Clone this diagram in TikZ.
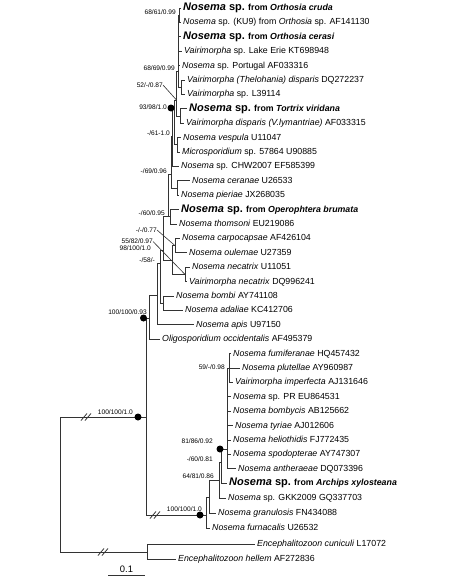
\documentclass[tikz,border=0pt]{standalone}
\usepackage{fontspec}
\setmainfont{Liberation Sans}
\newcommand{\NosBold}{{\fontsize{11}{12}\selectfont\bfseries\itshape Nosema\/ \upshape sp.}}
\tikzset{
  branch/.style={draw=black!80, line width=0.8pt},
  leader/.style={draw=black!80, line width=0.6pt},
  leaf/.style={anchor=west, inner xsep=2.5pt, inner ysep=0pt, text height=6.5pt, text depth=1.7pt, font=\fontsize{8.8}{10}\selectfont},
  supp/.style={anchor=east, inner sep=0pt, font=\fontsize{6.6}{7}\selectfont},
  dotmark/.style={fill=black},
  brk/.pic={\draw[branch] (-5,3.5)--(1,-3.5) (-1,3.5)--(5,-3.5);}
}
\begin{document}
\begin{tikzpicture}[x=1pt,y=-1pt]
\useasboundingbox (0,0) rectangle (474,578);
% ---------- leaves ----------
\node[leaf] (t1) at (180.5,8) {\NosBold{} \textbf{from \textit{Orthosia cruda}}};
\node[leaf] (t2) at (180.5,22.4) {\textit{Nosema} sp. (KU9) from \textit{Orthosia} sp. AF141130};
\node[leaf] (t3) at (180.5,36.8) {\NosBold{} \textbf{from \textit{Orthosia cerasi}}};
\node[leaf] (t4) at (181.5,51.2) {\textit{Vairimorpha} sp. Lake Erie KT698948};
\node[leaf] (t5) at (179.5,65.6) {\textit{Nosema} sp. Portugal AF033316};
\node[leaf] (t6) at (184.5,80) {\textit{Vairimorpha (Thelohania) disparis} DQ272237};
\node[leaf] (t7) at (184.5,94.4) {\textit{Vairimorpha} sp. L39114};
\node[leaf] (t8) at (186.5,108.8) {\NosBold{} \textbf{from \textit{Tortrix viridana}}};
\node[leaf] (t9) at (183.5,123.2) {\textit{Vairimorpha disparis (V.lymantriae)} AF033315};
\node[leaf] (t10) at (180.5,137.6) {\textit{Nosema vespula} U11047};
\node[leaf] (t11) at (179.5,152) {\textit{Microsporidium} sp. 57864 U90885};
\node[leaf] (t12) at (178.5,166.4) {\textit{Nosema} sp. CHW2007 EF585399};
\node[leaf] (t13) at (189.5,180.8) {\textit{Nosema ceranae} U26533};
\node[leaf] (t14) at (178.5,195.2) {\textit{Nosema pieriae} JX268035};
\node[leaf] (t15) at (178.5,209.6) {\NosBold{} \textbf{from \textit{Operophtera brumata}}};
\node[leaf] (t16) at (176.5,224) {\textit{Nosema thomsoni} EU219086};
\node[leaf] (t17) at (179.5,238.4) {\textit{Nosema carpocapsae} AF426104};
\node[leaf] (t18) at (186.5,252.8) {\textit{Nosema oulemae} U27359};
\node[leaf] (t19) at (189.5,267.2) {\textit{Nosema necatrix} U11051};
\node[leaf] (t20) at (186.5,281.6) {\textit{Vairimorpha necatrix} DQ996241};
\node[leaf] (t21) at (173.5,296) {\textit{Nosema bombi} AY741108};
\node[leaf] (t22) at (182.5,310.4) {\textit{Nosema adaliae} KC412706};
\node[leaf] (t23) at (193.5,324.8) {\textit{Nosema apis} U97150};
\node[leaf] (t24) at (159.5,339.2) {\textit{Oligosporidium occidentalis} AF495379};
\node[leaf] (t25) at (230.5,353.6) {\textit{Nosema fumiferanae} HQ457432};
\node[leaf] (t26) at (239.5,368) {\textit{Nosema plutellae} AY960987};
\node[leaf] (t27) at (232.5,382.4) {\textit{Vairimorpha imperfecta} AJ131646};
\node[leaf] (t28) at (230.5,396.8) {\textit{Nosema} sp. PR EU864531};
\node[leaf] (t29) at (230.5,411.2) {\textit{Nosema bombycis} AB125662};
\node[leaf] (t30) at (232.5,425.6) {\textit{Nosema tyriae} AJ012606};
\node[leaf] (t31) at (230.5,440) {\textit{Nosema heliothidis} FJ772435};
\node[leaf] (t32) at (230.5,454.4) {\textit{Nosema spodopterae} AY747307};
\node[leaf] (t33) at (235.5,468.8) {\textit{Nosema antheraeae} DQ073396};
\node[leaf] (t34) at (226.5,483.2) {\NosBold{} \textbf{from \textit{Archips xylosteana}}};
\node[leaf] (t35) at (225.5,498) {\textit{Nosema} sp. GKK2009 GQ337703};
\node[leaf] (t36) at (215.5,513) {\textit{Nosema granulosis} FN434088};
\node[leaf] (t37) at (209.5,528) {\textit{Nosema furnacalis} U26532};
\node[leaf] (t38) at (254.5,544) {\textit{Encephalitozoon cuniculi} L17072};
\node[leaf] (t39) at (175.5,559) {\textit{Encephalitozoon hellem} AF272836};
% ---------- internal nodes ----------
\coordinate (nA) at (179.5,15.2);
\coordinate (nC) at (181.5,87.2);
\coordinate (nD) at (178,71);
\coordinate (nE) at (180,116);
\coordinate (nG) at (176.5,100);
\coordinate (nK) at (177,144.8);
\coordinate (nF) at (174,108);
\coordinate (nH) at (172.5,136);
\coordinate (a10) at (177,188);
\coordinate (nI) at (171,174);
\coordinate (a11) at (170.5,216.8);
\coordinate (nJ) at (168,216);
\coordinate (a13) at (175,245.6);
\coordinate (a14) at (185,274.4);
\coordinate (a15) at (172,260);
\coordinate (a17) at (163,250);
\coordinate (b1) at (163,303.2);
\coordinate (a16) at (160,263);
\coordinate (U1) at (157,295);
\coordinate (U) at (149,318);
\coordinate (C1) at (229,368);
\coordinate (N1) at (227,449);
\coordinate (N2) at (221,462);
\coordinate (N3) at (219,480);
\coordinate (L1) at (209,497);
\coordinate (L0) at (206,515);
\coordinate (X) at (146,417);
\coordinate (E) at (147,552);
\coordinate (R) at (60,484.5);
% ---------- branches ----------
\foreach \p/\c in {nA/t1,nA/t2,nD/t3,nD/t4,nD/t5,nC/t6,nC/t7,nE/t8,nE/t9,nK/t10,nK/t11,nH/t12,a10/t13,a10/t14,a11/t15,a11/t16,a13/t17,a13/t18,a14/t19,a14/t20,b1/t21,b1/t22,U1/t23,U/t24,C1/t25,C1/t26,C1/t27,N1/t28,N1/t29,N1/t30,N1/t31,N1/t32,N1/t33,N2/t34,N3/t35,L1/t36,L0/t37,E/t38,E/t39}
  \draw[branch] (\p) |- (\c.west);
\foreach \p/\c in {nD/nA,nD/nC,nG/nD,nG/nE,nF/nG,nF/nK,nH/nF,nI/nH,nI/a10,nJ/nI,nJ/a11,a15/a13,a15/a14,a17/nJ,a17/a15,a16/a17,a16/b1,U1/a16,U/U1,X/U,X/L0,N1/C1,N2/N1,N3/N2,L1/N3,L0/L1,R/X,R/E}
  \draw[branch] (\p) |- (\c);
% ---------- break marks ----------
\pic at (86,417) {brk};
\pic at (155,515) {brk};
\pic at (103,552) {brk};
% ---------- support dots ----------
\fill[dotmark] (171,108) circle[radius=3.5pt];
\fill[dotmark] (143.5,318) circle[radius=3.5pt];
\fill[dotmark] (138,417) circle[radius=3.5pt];
\fill[dotmark] (200,515) circle[radius=3.5pt];
\fill[dotmark] (220,449) circle[radius=3.5pt];
% ---------- support labels ----------
\node[supp] (s1) at (176,12) {68/61/0.99};
\node[supp] (s2) at (175,68) {68/69/0.99};
\node[supp] (s3) at (163,85) {52/-/0.87};
\node[supp] (s4) at (167,107) {93/98/1.0};
\node[supp] (s5) at (170,133) {-/61-1.0};
\node[supp] (s6) at (167,171) {-/69/0.96};
\node[supp] (s7) at (165,213) {-/60/0.95};
\node[supp] (s8) at (157,230) {-/-/0.77};
\node[supp] (s9) at (153,241.5) {55/82/0.97};
\node[supp] (s10) at (151,248) {98/100/1.0};
\node[supp] (s11) at (155,260) {-/58/-};
\node[supp] (s12) at (147,312) {100/100/0.93};
\node[supp] (s13) at (225,367) {59/-/0.98};
\node[supp] (s14) at (213,441) {81/86/0.92};
\node[supp] (s15) at (213,459) {-/60/0.81};
\node[supp] (s16) at (214,476) {64/81/0.86};
\node[supp] (s17) at (202,509) {100/100/1.0};
\node[supp] (s18) at (133,412) {100/100/1.0};
% ---------- leader lines ----------
\draw[leader] (s3.east) -- (nG);
\draw[leader] (s8.east) -- (a13);
\draw[leader] (s9.east) -- (a14);
% ---------- scale bar ----------
\coordinate (sbL) at (108,575);
\coordinate (sbR) at (145,575);
\draw[branch] (sbL) -- (sbR);
\node[anchor=south, inner sep=0pt, font=\fontsize{9.4}{10}\selectfont] (sbt) at (126.5,573) {0.1};
\end{tikzpicture}
\end{document}
